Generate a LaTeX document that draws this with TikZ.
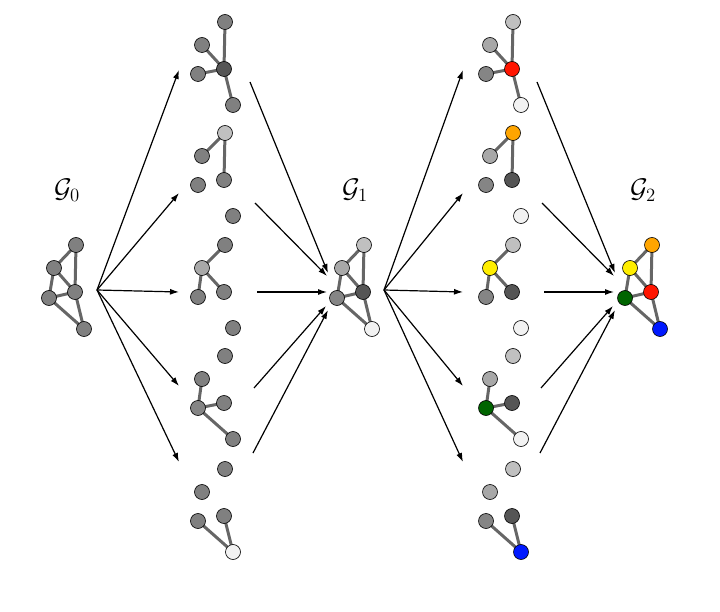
\documentclass[tikz,border=0pt]{standalone}
\usepackage{amsmath}
\usepackage{amssymb}
\usetikzlibrary{calc,arrows.meta}
\definecolor{cA}{HTML}{C0C0C0}
\definecolor{cB}{HTML}{A8A8A8}
\definecolor{cC}{HTML}{858585}
\definecolor{cD}{HTML}{555555}
\definecolor{cE}{HTML}{F2F2F2}
\definecolor{cG}{HTML}{808080}
\definecolor{dA}{HTML}{FFA500}
\definecolor{dB}{HTML}{FFEE00}
\definecolor{dC}{HTML}{006400}
\definecolor{dD}{HTML}{FF1500}
\definecolor{dE}{HTML}{0019FF}
\tikzset{
  vtx/.style={circle, draw=black, line width=0.6pt, inner sep=0pt, minimum size=15pt},
  edg/.style={line width=3pt, draw=black!60},
  arr/.style={-{Latex[length=9pt,width=6pt]}, line width=1.2pt},
  lbl/.style={font=\huge, scale=1.3}
}
\begin{document}
\begin{tikzpicture}[x=1pt,y=-1pt]
    \useasboundingbox (0,0) rectangle (720,612);

    % full graphs
    \foreach \g/\gx in {0/75, 1/363, 2/651} {
        \coordinate (g\g) at (\gx,292);
        \coordinate (g\g a) at ($(g\g)+(1,-47)$);
        \coordinate (g\g b) at ($(g\g)+(-21,-24)$);
        \coordinate (g\g c) at ($(g\g)+(-26,6)$);
        \coordinate (g\g d) at (g\g);
        \coordinate (g\g e) at ($(g\g)+(9,37)$);
        \draw[edg] (g\g a) -- (g\g b) (g\g a) -- (g\g d) (g\g b) -- (g\g d)
                   (g\g b) -- (g\g c) (g\g c) -- (g\g d) (g\g c) -- (g\g e) (g\g d) -- (g\g e);
        \node[lbl] (lab\g) at ($(g\g)+(-8,-102)$) {$\mathcal{G}_\g$};
        \foreach \v/\c in {a/A,b/B,c/C,d/D,e/E} {
            \ifnum\g=0 \node[vtx, fill=cG] (n\g\v) at (g\g\v) {};
            \else\ifnum\g=1 \node[vtx, fill=c\c] (n\g\v) at (g\g\v) {};
            \else \node[vtx, fill=d\c] (n\g\v) at (g\g\v) {};
            \fi\fi
        }
    }

    % ego panels: column L (left) and R (right)
    \foreach \k/\py/\ctr/\nbs in {1/69/d/{a,b,c,e}, 2/180/a/{b,d}, 3/292/b/{a,c,d}, 4/403/c/{b,d,e}, 5/516/e/{c,d}} {
        \foreach \col/\px in {L/224, R/512} {
            \coordinate (p\col\k) at (\px,\py);
            \coordinate (p\col\k a) at ($(p\col\k)+(1,-47)$);
            \coordinate (p\col\k b) at ($(p\col\k)+(-22,-24)$);
            \coordinate (p\col\k c) at ($(p\col\k)+(-26,5)$);
            \coordinate (p\col\k d) at (p\col\k);
            \coordinate (p\col\k e) at ($(p\col\k)+(9,36)$);
            \foreach \n in \nbs {
                \draw[edg] (p\col\k\ctr) -- (p\col\k\n);
            }
        }
        \foreach \v/\c in {a/A,b/B,c/C,d/D,e/E} {
            \ifx\v\ctr
                \node[vtx, fill=c\c] (nL\k\v) at (pL\k\v) {};
                \node[vtx, fill=d\c] (nR\k\v) at (pR\k\v) {};
            \else
                \node[vtx, fill=cG] (nL\k\v) at (pL\k\v) {};
                \node[vtx, fill=c\c] (nR\k\v) at (pR\k\v) {};
            \fi
        }
    }

    % arrow ends
    \coordinate (s0) at (97,290);
    \coordinate (s1) at (384,290);
    \foreach \k/\ey/\sx/\sy/\tx/\ty in {1/70/250/82/328/273, 2/193/255/203/327/276, 3/292/257/292/327/292, 4/386/254/388/326/306, 5/462/253/453/328/310} {
        \coordinate (eL\k) at (179,\ey);
        \coordinate (eR\k) at (463,\ey);
        \coordinate (fL\k) at (\sx,\sy);
        \coordinate (tL\k) at (\tx,\ty);
        \coordinate (fR\k) at ($(\sx,\sy)+(287,0)$);
        \coordinate (tR\k) at ($(\tx,\ty)+(287,0)$);
        \draw[arr] (s0) -- (eL\k);
        \draw[arr] (s1) -- (eR\k);
        \draw[arr] (fL\k) -- (tL\k);
        \draw[arr] (fR\k) -- (tR\k);
    }
\end{tikzpicture}
\end{document}
